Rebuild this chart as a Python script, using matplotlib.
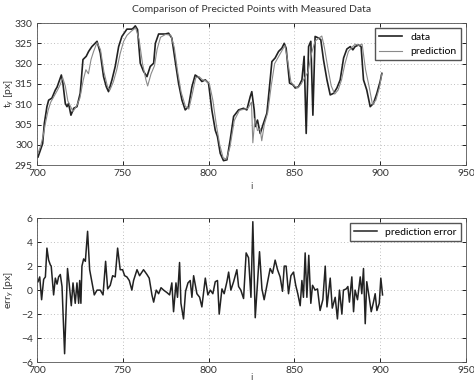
import matplotlib
matplotlib.use("Agg")
import matplotlib.pyplot as plt

# measured data (i, t_y)
data_x = [700.6, 702, 703.3, 704.3, 705.8, 706.8, 708.7, 710.7, 711.7, 713.2, 714.2, 715.1,
          716.5, 717.5, 718.4, 719.8, 721.4, 723.3, 725.2, 726.8, 728.7, 730.1, 732, 735,
          736.9, 738.8, 740.4, 741.7, 743.7, 745.6, 747.6, 749.5, 750.8, 752.4, 755.3, 756.3,
          757.3, 758.6, 760.2, 762.1, 764.1, 766, 768, 769, 770.9, 774.8, 776.7, 778.6,
          780.6, 782.5, 784.5, 786.4, 788.3, 790.3, 792.2, 794.2, 796.1, 798.1, 800, 801.9,
          803.9, 805.2, 806.8, 808.7, 810.7, 812.6, 814.6, 817.5, 820.4, 822.3, 824.3, 825.2,
          826.6, 827.2, 828.5, 830.1, 832, 834, 835.9, 836.9, 838.8, 840.8, 842.7, 844.1,
          845.2, 847.2, 849.1, 850.6, 852.4, 854.4, 855.7, 856.9, 858.3, 859.6, 860.8, 862.1,
          864.1, 865.4, 867, 869, 870.9, 872.9, 874.8, 876.7, 878.7, 880.6, 882.6, 884.1,
          885.4, 887.4, 888.9, 890.3, 892.2, 894.2, 896.1, 898.1, 900, 901]
data_y = [297, 298.7, 300.3, 305.3, 309.4, 311, 311.5, 313.5, 314.2, 316, 317.2, 315.2,
          310.2, 309.4, 310.2, 307.3, 309, 309.4, 312.7, 321, 321.8, 323, 324.2, 325.5,
          322.6, 316.8, 314.3, 313.1, 316, 319.3, 324.2, 326.7, 327.5, 328.5, 328.5, 328.8,
          329.3, 328.4, 320.1, 318.1, 316.8, 319.3, 320.1, 325, 327.3, 327.3, 327.5, 326.3,
          320.5, 315.2, 311, 308.6, 309.4, 314.3, 317.2, 316.6, 315.6, 316, 315.2, 308.6,
          303.6, 302, 297.9, 296.1, 296.3, 301.2, 307, 308.6, 309, 308.6, 311.9, 313.1,
          308.6, 304.5, 306.1, 302.8, 305.3, 307.8, 316, 320.5, 321.4, 323, 323.8, 325,
          323.8, 315.2, 314.8, 314, 314.3, 316, 321.8, 302.8, 324.2, 325.5, 307.3, 326.7,
          326.3, 325.9, 320.9, 316, 312.3, 312.7, 314, 316, 321.4, 323.6, 324.2, 323.4,
          324.2, 324.6, 324.2, 316, 313.5, 309.4, 310.2, 312.7, 315.6, 317.6]

# predicted points (i, t_y)
pred_x = [700.6, 702, 703.5, 705, 706.5, 708, 710, 712, 713.5, 715, 716.5, 718, 719.5, 721,
          723, 725, 727, 728.5, 730, 731.5, 733, 735, 737, 739, 741, 742.5, 744.5, 746.5,
          748.5, 750.5, 752.5, 755, 757.5, 759.5, 761.5, 763.5, 764.5, 766.5, 768.5, 770,
          772, 775, 778, 780, 782, 784, 786.5, 788.5, 790.5, 792.5, 794.5, 796.5, 798.5,
          800.5, 802.5, 804.5, 806.5, 808.5, 810.5, 812.5, 815, 818, 821, 823, 825, 825.8,
          827, 828.5, 830, 831, 832.5, 834.5, 836.5, 838.5, 840.5, 842.5, 844.5, 846, 848,
          850, 852, 854, 856, 858, 860, 862, 864, 866, 867.5, 869.5, 871.5, 873.5, 875.5,
          877.5, 879.5, 881.5, 883.5, 885.5, 887.5, 889.5, 891.5, 893.5, 895.5, 897.5,
          899.5, 901]
pred_y = [298, 299.5, 302, 305.5, 308.5, 310.5, 312, 313.5, 314.8, 316.5, 314.5, 310.8,
          309.5, 308.2, 309.5, 311.5, 316, 318.5, 317.5, 321, 323, 325.2, 323.5, 318,
          314.5, 313.5, 315.5, 318.5, 322.5, 325.5, 327, 328, 328.8, 326, 320, 316, 314.5,
          317.5, 319.5, 323.5, 326.5, 327.2, 327, 324, 318, 313, 309.5, 308.8, 312.5, 316.5,
          316.8, 316, 315.8, 315, 311, 305, 300, 296.8, 296.5, 299.5, 306, 308.5, 308.8,
          309, 310.5, 300.5, 306.5, 303.5, 304, 301, 305, 308, 314.5, 320, 321.5, 323,
          324.5, 321, 315.5, 314.5, 314, 315, 316.5, 318, 322.5, 325.5, 326.2, 326.8, 324,
          319, 314.5, 312.5, 313.5, 316, 320, 323, 324, 324.8, 324.5, 324.8, 318.5, 314.5,
          310, 311, 314, 317.5]

# prediction error (i, err_y)
err_x = [700.6, 701.6, 702.7, 703.9, 704.9, 705.8, 706.8, 707.8, 708.3, 709.7, 710.7, 711.7,
         712.6, 713.6, 714.6, 716.1, 717.8, 718.8, 720, 721, 722.3, 723.3, 724.3, 724.9,
         725.6, 726.2, 727.2, 728.2, 729.5, 730.7, 732, 733.4, 735, 736.9, 738.5, 740,
         741.2, 742.7, 744.1, 745.6, 747, 748.5, 749.9, 751.1, 752.4, 753.8, 755.3, 756.3,
         758.3, 759.8, 762.1, 764.1, 765.4, 767, 768, 769.5, 770.9, 772.3, 773.8, 775.7,
         777.3, 778.6, 779.6, 781, 781.9, 783.1, 783.9, 785.4, 786.6, 788, 789.3, 790.3,
         791.3, 793.2, 794.8, 796.1, 798.1, 799.6, 801, 802.5, 803.9, 805.2, 806.2, 807.8,
         809.1, 810.7, 811.7, 813, 814.6, 816.5, 817.5, 818.8, 820.4, 821.9, 823.3, 824.7,
         825.8, 827.2, 828.5, 829.7, 831.1, 832.4, 834, 835.9, 837.3, 838.8, 840.2, 841.7,
         843.1, 844.1, 845.2, 846.6, 848, 849.5, 850.8, 852, 853.4, 854.4, 855.3, 856.3,
         857.3, 858.4, 859.6, 860.6, 862.1, 863.5, 865, 866.6, 868, 869, 870.9, 872.1,
         873.8, 875.1, 876.3, 877.7, 878.6, 880.2, 881.2, 882.1, 883.5, 884.5, 885.4, 886.8,
         888.4, 889.3, 890.3, 891.3, 892.2, 893.6, 894.8, 896.1, 897.1, 898.1, 899.5, 900.4,
         901.4]
err_y = [0.7, 1.1, -0.8, 0.9, 1.1, 3.5, 2.5, 2.1, 2.0, -0.4, 1.0, 0.5,
         1.1, 1.3, 0.3, -5.3, 1.8, 0.5, -1.3, 0.6, -1.1, 0.6, -1.1, 0.8,
         -1.1, 2.0, 2.6, 2.4, 4.9, 1.7, 0.7, -0.4, 0.0, 0.0, -0.4, 2.4,
         0.1, 0.4, 1.2, 1.1, 3.5, 1.7, 1.7, 1.2, 1.1, 0.8, 0.0, 0.8,
         1.7, 1.2, 1.7, 1.3, 1.0, -0.4, -1.0, 0.0, -0.3, 0.2, 0.0, -0.2,
         -0.4, 0.6, -1.8, 0.6, -0.6, 2.3, -1.1, -2.4, -0.1, 0.6, 0.8, -0.6,
         1.2, -0.3, -0.6, -1.4, 1.0, -0.4, 0.0, -0.3, 0.7, 0.8, -2.0, 0.1,
         -0.3, 0.7, 1.5, 0.0, 0.7, 1.7, 0.3, 0.0, -0.7, 3.1, 2.7, -0.6,
         5.7, -2.3, 0.6, 3.2, 0.1, -0.8, 0.4, 1.8, 1.4, 2.5, 1.7, 1.1,
         -0.1, 2.0, 2.0, -0.3, 1.2, 1.5, 0.4, -0.3, -1.3, 0.8, -0.6, 3.1,
         -0.6, 2.9, -1.1, 0.4, 0.0, 0.1, -1.7, -0.8, 2.0, -1.4, 1.0, -1.5,
         -0.6, -2.4, 0.0, -2.0, 0.0, 0.1, 0.3, -1.0, 1.1, -1.8, 0.0, -0.8,
         1.1, -0.3, 1.8, -2.8, 0.7, -0.6, -1.8, -1.0, -0.3, -1.7, -1.1, 1.0,
         -0.4]

xticks = [700, 750, 800, 850, 900, 950]
top_yticks = [295, 300, 305, 310, 315, 320, 325, 330]
bot_yticks = [-6, -4, -2, 0, 2, 4, 6]

plt.rcParams['font.family'] = ['Lato', 'DejaVu Sans']
plt.rcParams['font.size'] = 7.5
plt.rcParams['mathtext.fontset'] = 'custom'
plt.rcParams['mathtext.rm'] = 'Lato'
plt.rcParams['mathtext.it'] = 'Lato:italic'

fig = plt.figure(figsize=(4.74, 3.84), dpi=100)
ax1 = fig.add_axes([0.078, 0.570, 0.905, 0.370])
ax2 = fig.add_axes([0.078, 0.057, 0.905, 0.375])

ax1.plot(data_x, data_y, color='#222222', lw=1.2, label='data')
ax1.plot(pred_x, pred_y, color='#8a8a8a', lw=0.8, label='prediction')
ax1.set_xlim(700, 950)
ax1.set_ylim(295, 330)
ax1.set_xticks(xticks)
ax1.set_yticks(top_yticks)
ax1.set_ylabel('t$_y$ [px]', color='#333333')
ax1.yaxis.set_label_coords(-0.050, 0.5)
ax1.set_xlabel('i', labelpad=3, color='#555555')
ax1.set_title('Comparison of Precicted Points with Measured Data', fontsize=7.5, pad=8,
              color='#333333')
ax1.legend(loc='upper right', fancybox=False, edgecolor='#555555', framealpha=1,
           borderaxespad=0.5, handlelength=2.2, fontsize=7.5)

ax2.plot(err_x, err_y, color='#222222', lw=1.1, label='prediction error')
ax2.set_xlim(700, 950)
ax2.set_ylim(-6, 6)
ax2.set_xticks(xticks)
ax2.set_yticks(bot_yticks)
ax2.set_ylabel('err$_y$ [px]', color='#333333')
ax2.yaxis.set_label_coords(-0.050, 0.5)
ax2.set_xlabel('i', color='#555555')
ax2.xaxis.set_label_coords(0.5, -0.075)
ax2.legend(loc='upper right', fancybox=False, edgecolor='#555555', framealpha=1,
           borderaxespad=0.5, handlelength=2.2, fontsize=7.5)

for ax in (ax1, ax2):
    ax.grid(True, linestyle=(0, (1, 3)), color='#aaaaaa', lw=0.6)
    ax.tick_params(direction='in', length=3, width=0.6, pad=3, top=True, right=True,
                   labelcolor='#333333', labelsize=7.5)
    for s in ax.spines.values():
        s.set_linewidth(0.6)
        s.set_color('#555555')

fig.savefig('out.png', dpi=100)
